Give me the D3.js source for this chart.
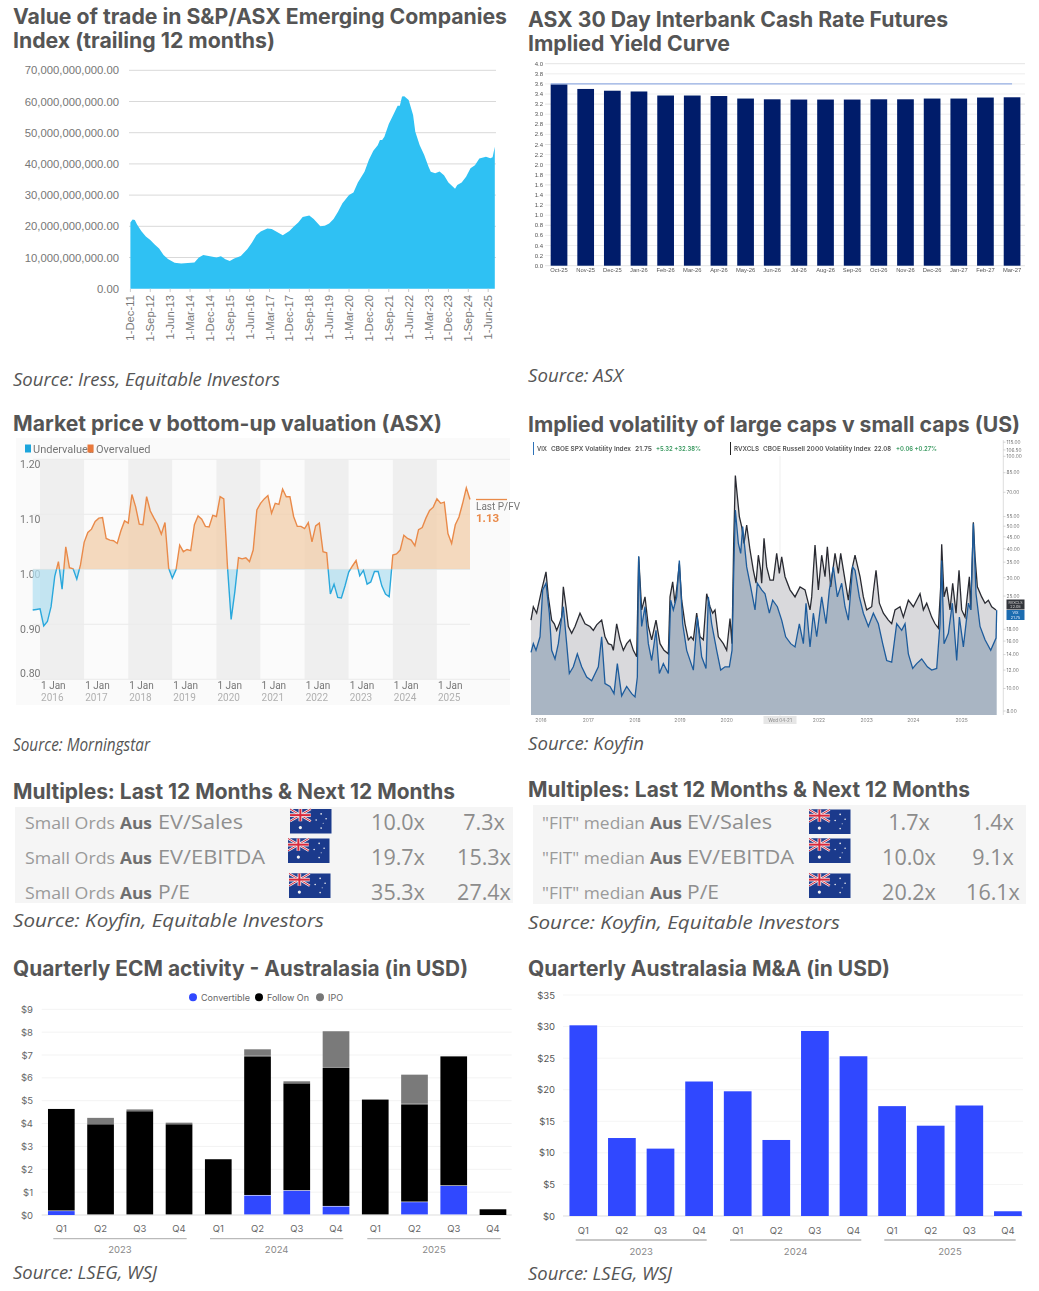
<!DOCTYPE html>
<html>
<head>
<meta charset="utf-8">
<script src="https://cdnjs.cloudflare.com/ajax/libs/d3/7.8.5/d3.min.js"></script>
<style>
html,body{margin:0;padding:0;background:#fff}
svg{display:block}
</style>
</head>
<body>
<svg id="c" width="1039" height="1291" xmlns="http://www.w3.org/2000/svg"></svg>
<script>
// ---------- DATA ----------
const tradeMonths=[0,1,2,3,5,7,9,11,13,15,17,20,23,26,29,31,33,36,39,41,43,45,47,50,53,55,57,59,62,64,66,69,72,74,76,78,81,83,86,88,90,92,94,96,99,101,103,106,108,110,112,113,114,115,117,119,121,122,123,124,126,128,129,131,133,135,136,138,140,142,144,147,148,150,152,154,156,158,161,163,164,165];
const tradeValues=[21.2,22.2,22,20.6,18.4,16.7,15.6,14.2,12.9,10.8,9.5,8.3,8.1,8.2,8.4,10,10.8,10.4,10,10.4,9.4,8.9,9.7,10.5,12.7,14.7,17.1,18.3,19.3,19.1,18.3,17.1,18.5,19.9,21.2,23,23.5,22.3,20,20.2,20.9,22.3,24.7,27.4,30,30.8,34,37.5,41.3,44.2,46,47.7,47.7,48.7,52.8,55.7,58.6,58.6,61.6,61.7,60.5,55.7,50.3,46,42.9,39.1,37.5,37,37.6,36.4,34,32,33.2,34,35.9,38.6,39.6,41.7,42.3,41.8,42.1,45.5];
const tradeTicks=["1-Dec-11","1-Sep-12","1-Jun-13","1-Mar-14","1-Dec-14","1-Sep-15","1-Jun-16","1-Mar-17","1-Dec-17","1-Sep-18","1-Jun-19","1-Mar-20","1-Dec-20","1-Sep-21","1-Jun-22","1-Mar-23","1-Dec-23","1-Sep-24","1-Jun-25"];

const curveMonths=["Oct-25","Nov-25","Dec-25","Jan-26","Feb-26","Mar-26","Apr-26","May-26","Jun-26","Jul-26","Aug-26","Sep-26","Oct-26","Nov-26","Dec-26","Jan-27","Feb-27","Mar-27"];
const curveYields=[3.59,3.5,3.465,3.45,3.37,3.37,3.36,3.31,3.295,3.29,3.29,3.29,3.295,3.295,3.31,3.31,3.33,3.335];
const curveCash=3.6;

const pfvValues=[.926,.927,.928,.897,.905,.932,.987,1.014,.964,1.041,1.003,1.001,.982,1.008,1.049,1.067,1.073,1.087,1.093,1.094,1.056,1.053,1.052,1.047,1.07,1.088,1.084,1.136,1.114,1.082,1.081,1.132,1.106,1.093,1.081,1.064,1.085,1.002,.984,.999,1.044,1.032,1.036,1.034,1.081,1.097,1.091,1.078,1.077,1.098,1.096,1.132,1.128,1.005,.909,.959,1.021,1.019,1.021,1.014,1.035,1.108,1.12,1.128,1.134,1.102,1.12,1.118,1.146,1.132,1.132,1.096,1.078,1.078,1.074,1.085,1.05,1.079,1.084,1.032,1.03,.955,.973,.949,.948,.97,.995,1.006,1.016,.988,.998,.973,.977,.996,.996,.97,.955,.95,1.026,1.028,1.035,1.062,1.056,1.053,1.043,1.072,1.076,1.093,1.107,1.113,1.128,1.12,1.122,1.065,1.047,1.081,1.095,1.12,1.148,1.127];
const pfvYears=[2016,2017,2018,2019,2020,2021,2022,2023,2024,2025];
const pfvAxis=[1.2,1.1,1.0,.9,.8];

const rvxIdx=[0,7,17,32,45,52,62,70,77,85,92,97,105,112,122,132,147,162,177,187,197,212,222,232,242,247,257,267,277,287,297,307,317,323,332,342,352,362,375,387,399,412,417,425,432,439,445,452,462,472,480,487,497,507,517,527,537,545,552,562,577,587,597,603,608,613,619,625,632,639,647,657,667,675,682,689,692,699,707,717,727,737,745,752,762,777,792,807,822,837,842,852,862,872,882,889,899,912,922,929,942,952,962,972,987,997,1007,1022,1027,1035,1045,1057,1072,1082,1092,1107,1117,1132,1147,1167,1177,1187,1202,1212,1222,1229,1232,1239,1247,1257,1265,1275,1284,1292,1302,1315,1319,1327,1332,1339,1352,1362,1372,1382,1395];
const rvxValues=[19.7,22.5,21.1,26.6,31.8,24.8,19.7,19,17.8,19,20.3,27.4,22.5,18.5,17.3,18.5,21.1,19,18.5,17.8,18.8,19.7,16.7,15.6,15.4,14.6,19,16.2,14.6,15.6,16.2,14.6,13.7,36.9,21.8,24.8,18.5,16.2,19.7,15.6,14.6,14.1,24.8,28.8,23.3,28.4,34.5,24,19,16.2,16.7,16.2,21.1,16.7,16.2,25.6,22.5,21.1,21.8,16.7,15.6,14.6,20,15.6,42.2,82.6,67,55,49.8,42.2,50.6,39.5,32.3,28.4,37.5,32.3,28.4,44.3,33.4,29.3,29.3,38.2,31.3,36.9,30.3,26.6,24.8,27.4,26.6,21.8,24.8,41.5,26.6,37.5,30.3,40.8,27.4,38.2,31.3,38.2,29.3,24,32.3,37.5,30.3,24.8,21.8,22.5,26.1,32.3,23.3,21.1,19.7,19,21.8,22.5,20.3,24,22.5,25.6,21.8,23.3,20.3,19,18.2,27.4,41.8,24.8,27.4,21.8,28.4,21.1,32.3,21.8,20.3,30.3,21.8,52,36.9,27.4,24.8,23.3,24,22.5,21.8];
const vixIdx=[0,7,15,27,35,45,55,62,72,82,92,97,107,115,127,139,152,167,182,202,212,222,237,249,259,272,287,302,312,319,323,332,342,352,362,375,385,397,412,419,427,437,445,455,467,487,499,512,525,532,542,557,569,582,595,603,608,613,622,629,635,647,659,672,679,692,702,715,725,739,752,764,779,792,805,817,825,837,847,857,872,885,895,907,919,932,942,952,965,972,985,997,1012,1027,1042,1055,1067,1082,1097,1112,1122,1132,1145,1157,1172,1189,1202,1217,1227,1232,1239,1252,1264,1277,1285,1297,1312,1319,1327,1335,1347,1362,1379,1395,1397];
const vixValues=[14.3,15.6,14.6,16.7,26.6,28.4,21.1,14.6,13.4,15.6,20.3,22.5,15.6,11.6,12.4,14.1,12.4,11.2,10.8,12.4,16.7,10.5,10.2,9.5,12.8,9.3,10.2,9.5,9.2,11.2,37.1,18.5,22.5,15.6,13.2,17.8,11.6,12.8,11.6,24,21.8,24.8,35.6,19,14.6,12,20.3,13.7,12.2,24.8,19,14.6,12,12.4,12.4,14.6,31.3,58.7,42.2,38.2,49.8,33.4,27.4,21.8,28.4,26.6,25.6,21.1,24,22.5,19.7,16.7,15.6,15.1,19,15.6,23.3,15.1,21.1,16.7,24.8,19,26.6,33.4,24.8,28.4,22.5,19.7,33.4,32.3,24.8,21.1,18.5,21.1,19,15.6,13.2,13,19,17.8,19,14.1,12.2,12.8,13.4,12.4,12,12.2,19,35.6,15.6,17.3,23.3,13.2,20.3,15.1,23.3,21.8,51.4,25.6,18.5,16.2,14.6,16.5,21.75];
const volYears=[2016,2017,2018,2019,2020,2022,2023,2024,2025];
const volYearIdx=[30,172,312,447,587,864,1007,1147,1292];
const volAxis=[115,106.5,100,85,70,55,50,45,40,35,30,25,18,16,14,12,10,8];

const multipleNames=["EV/Sales","EV/EBITDA","P/E"];
const smallOrdsLtm=["10.0x","19.7x","35.3x"];
const smallOrdsNtm=["7.3x","15.3x","27.4x"];
const fitLtm=["1.7x","10.0x","20.2x"];
const fitNtm=["1.4x","9.1x","16.1x"];

const quarters=["Q1","Q2","Q3","Q4","Q1","Q2","Q3","Q4","Q1","Q2","Q3","Q4"];
const quarterYears=[2023,2024,2025];
const ecmConvertible=[.17,0,0,0,0,.85,1.06,.37,0,.56,1.27,0];
const ecmFollowOn=[4.47,3.97,4.54,3.97,2.44,6.09,4.70,6.08,5.05,4.28,5.67,.25];
const ecmIpo=[0,.28,.08,.07,0,.31,.09,1.59,0,1.30,0,0];
const maValues=[30.2,12.35,10.67,21.3,19.75,12.04,29.3,25.3,17.4,14.3,17.5,.75];

// ---------- HELPERS ----------
const svg=d3.select("#c");
svg.append("rect").attr("width",1039).attr("height",1291).attr("fill","#fff");
const defs=svg.append("defs");
defs.append("filter").attr("id","soft").attr("x","-5%").attr("y","-5%").attr("width","110%").attr("height","110%")
  .append("feGaussianBlur").attr("stdDeviation",.45);
const HEAD="Inter, 'Noto Sans', sans-serif", OS="'Open Sans', sans-serif", ARIAL="'Liberation Sans', Arial, sans-serif", NARROW="'Liberation Sans Narrow', Roboto, sans-serif";

function txt(g,s,x,y,o={}){
  const t=g.append("text").attr("x",x).attr("y",y).text(s)
    .attr("font-family",o.font||ARIAL).attr("font-size",o.size||10).attr("fill",o.fill||"#666")
    .attr("text-anchor",o.anchor||"start");
  if(o.weight)t.attr("font-weight",o.weight);
  if(o.italic)t.attr("font-style","italic");
  if(o.len)t.attr("textLength",o.len).attr("lengthAdjust","spacingAndGlyphs");
  return t;
}
const title=(s,x,y,len)=>txt(svg,s,x,y,{font:HEAD,size:21,weight:700,fill:"#555",len});
const source=(s,x,y,len)=>txt(svg,s,x,y,{font:OS,size:18,italic:true,fill:"#555",len});

title("Value of trade in S&P/ASX Emerging Companies",13,24,494);
title("Index (trailing 12 months)",13,48,262);
title("ASX 30 Day Interbank Cash Rate Futures",528,27,420);
title("Implied Yield Curve",528,51,202);
title("Market price v bottom-up valuation (ASX)",13,431,429);
title("Implied volatility of large caps v small caps (US)",528,432,492);
title("Multiples: Last 12 Months & Next 12 Months",13,799,442);
title("Multiples: Last 12 Months & Next 12 Months",528,797,442);
title("Quarterly ECM activity - Australasia (in USD)",13,976,455);
title("Quarterly Australasia M&A (in USD)",528,976,362);
source("Source: Iress, Equitable Investors",13,386,267);
source("Source: ASX",528,382,95);
source("Source: Morningstar",13,751,137);
source("Source: Koyfin",528,750,116);
source("Source: Koyfin, Equitable Investors",13,927,311);
source("Source: Koyfin, Equitable Investors",528,929,312);
source("Source: LSEG, WSJ",13,1279,144);
source("Source: LSEG, WSJ",528,1280,144);

// ---------- 1. TRADE AREA ----------
(function(){
  const g=svg.append("g");
  const x=d3.scaleLinear().domain([0,165]).range([130.4,494.8]);
  const y=d3.scaleLinear().domain([0,70]).range([288.7,70.3]);
  y.ticks(7).forEach(v=>{
    if(v>0)g.append("line").attr("x1",129).attr("x2",496).attr("y1",y(v)).attr("y2",y(v)).attr("stroke","#d9d9d9").attr("stroke-width",1);
    txt(g,d3.format(",.2f")(v*1e9),119,y(v)+4,{size:11.3,fill:"#777",anchor:"end"});
  });
  g.append("path").attr("fill","#2fc1f3").attr("d",d3.area().x((d,i)=>x(tradeMonths[i])).y0(y(0)).y1(d=>y(d))(tradeValues));
  tradeTicks.forEach((s,i)=>{
    const xx=x(i*9);
    g.append("line").attr("x1",xx).attr("x2",xx).attr("y1",288.7).attr("y2",292).attr("stroke","#ccc");
    txt(g,s,0,0,{size:11.3,fill:"#777",anchor:"end"}).attr("transform",`translate(${xx+4},295) rotate(-90)`);
  });
})();

// ---------- 2. YIELD CURVE ----------
(function(){
  const g=svg.append("g").attr("filter","url(#soft)");
  const x=d3.scaleBand().domain(d3.range(curveMonths.length)).range([545.7,1025.4]).paddingInner(.373).paddingOuter(.1865);
  const y=d3.scaleLinear().domain([0,4]).range([265.7,63.7]);
  d3.range(0,21).forEach(k=>{
    const v=k*.2;
    g.append("line").attr("x1",545).attr("x2",1025).attr("y1",y(v)).attr("y2",y(v)).attr("stroke",k%4==0?"#dcdcdc":"#eaeaea").attr("stroke-width",.8);
    txt(g,v.toFixed(1),543,y(v)+2,{size:6,fill:"#555",anchor:"end"});
  });
  g.selectAll("rect.b").data(curveYields).join("rect").attr("x",(d,i)=>x(i)).attr("width",x.bandwidth()).attr("y",d=>y(d)).attr("height",d=>y(0)-y(d)).attr("fill","#001f6b");
  g.append("line").attr("x1",x(0)).attr("x2",x(17)+x.bandwidth()/2).attr("y1",y(curveCash)).attr("y2",y(curveCash)).attr("stroke","#7f9fe0").attr("stroke-width",1);
  curveMonths.forEach((s,i)=>txt(g,s,x(i)+x.bandwidth()/2,271.5,{size:5.8,fill:"#555",anchor:"middle"}));
})();

// ---------- 3. P/FV ----------
(function(){
  const g=svg.append("g").attr("filter","url(#soft)");
  g.append("rect").attr("x",16).attr("y",438).attr("width",494).attr("height",267).attr("fill","#fafafa");
  const x=d3.scaleLinear().domain([0,pfvValues.length-1]).range([32.7,470]);
  const y=d3.scaleLinear().domain([.8,1.2]).range([679.3,459.3]);
  pfvYears.forEach((yr,k)=>{
    const a=x(2+12*k), b=Math.min(x(14+12*k),470);
    g.append("rect").attr("x",a).attr("y",y(1.2)).attr("width",b-a).attr("height",y(.8)-y(1.2)).attr("fill",k%2==0?"#efefef":"#fbfbfb");
    txt(g,"1 Jan",a+1,689,{font:NARROW,size:10,fill:"#777"});
    txt(g,yr,a+1,701,{font:NARROW,size:10,fill:"#b0b0b0"});
  });
  pfvAxis.forEach(v=>{
    g.append("line").attr("x1",33).attr("x2",v==1.2||v==.8?510:470).attr("y1",y(v)).attr("y2",y(v)).attr("stroke","#ebebeb").attr("stroke-width",1);
    txt(g,v.toFixed(2),20,v==.8?y(v)-2:y(v)+9,{font:NARROW,size:10.5,fill:"#777"});
  });
  const cid=(n,a,b)=>{defs.append("clipPath").attr("id",n).append("rect").attr("x",0).attr("y",a).attr("width",1039).attr("height",b-a);return `url(#${n})`;};
  const up=cid("pfvUp",440,y(1)), dn=cid("pfvDn",y(1),700);
  const area=d3.area().x((d,i)=>x(i)).y0(y(1)).y1(d=>y(d));
  const line=d3.line().x((d,i)=>x(i)).y(d=>y(d));
  g.append("path").attr("d",area(pfvValues)).attr("fill","#f2cdaa").attr("fill-opacity",.75).attr("clip-path",up);
  g.append("path").attr("d",area(pfvValues)).attr("fill","#b4e0f2").attr("fill-opacity",.75).attr("clip-path",dn);
  g.append("path").attr("d",line(pfvValues)).attr("fill","none").attr("stroke","#e98a4a").attr("stroke-width",1.4).attr("clip-path",up);
  g.append("path").attr("d",line(pfvValues)).attr("fill","none").attr("stroke","#2aa8dc").attr("stroke-width",1.4).attr("clip-path",dn);
  g.append("rect").attr("x",25).attr("y",444.5).attr("width",6).attr("height",8).attr("fill","#1fa5dc");
  txt(g,"Undervalued",33,452.5,{font:NARROW,size:11,fill:"#777"});
  g.append("rect").attr("x",87.5).attr("y",444.5).attr("width",6).attr("height",8).attr("fill","#e9793a");
  txt(g,"Overvalued",96,452.5,{font:NARROW,size:11,fill:"#777"});
  g.append("line").attr("x1",476).attr("x2",507).attr("y1",499.5).attr("y2",499.5).attr("stroke","#e98a4a").attr("stroke-width",1.3);
  txt(g,"Last P/FV",476,510,{font:NARROW,size:10,fill:"#777"});
  txt(g,"1.13",476,522,{font:NARROW,size:11.5,weight:700,fill:"#e98a4a"});
})();

// ---------- 4. VOLATILITY ----------
(function(){
  const g=svg.append("g").attr("filter","url(#soft)");
  const x=d3.scaleLinear().domain([0,1397]).range([531,996.7]);
  const y=d3.scaleLog().domain([8,40]).range([711,548.7]);
  const base=715;
  const area=ix=>d3.area().x((d,i)=>x(ix[i])).y0(base).y1(d=>y(d));
  const line=ix=>d3.line().x((d,i)=>x(ix[i])).y(d=>y(d));
  g.append("line").attr("x1",780/3+520).attr("x2",780/3+520).attr("y1",456).attr("y2",716).attr("stroke","#e4e4e4").attr("stroke-width",.6);
  g.append("path").attr("d",area(rvxIdx)(rvxValues)).attr("fill","#d9d9dc");
  g.append("path").attr("d",area(vixIdx)(vixValues)).attr("fill","#a9b5c3");
  g.append("path").attr("d",line(rvxIdx)(rvxValues)).attr("fill","none").attr("stroke","#2a2c33").attr("stroke-width",1.3);
  g.append("path").attr("d",line(vixIdx)(vixValues)).attr("fill","none").attr("stroke","#1f5c9c").attr("stroke-width",1.3);
  g.append("line").attr("x1",1003.3).attr("x2",1003.3).attr("y1",440).attr("y2",715).attr("stroke","#cfcfcf").attr("stroke-width",.7);
  volAxis.forEach(v=>{
    g.append("line").attr("x1",1003.3).attr("x2",1005.5).attr("y1",y(v)).attr("y2",y(v)).attr("stroke","#bbb").attr("stroke-width",.6);
    txt(g,v.toFixed(2),1006.5,y(v)+1.8,{font:HEAD,size:4.8,fill:"#777"});
  });
  g.append("rect").attr("x",1006.5).attr("y",599.5).attr("width",18).attr("height",10).attr("fill","#33353b");
  g.append("rect").attr("x",1006.5).attr("y",610).attr("width",18).attr("height",10).attr("fill","#1f6cb0");
  txt(g,"RVXCLS",1015.5,603.5,{font:HEAD,size:3.6,fill:"#ddd",anchor:"middle"});
  txt(g,"22.08",1015.5,608,{font:HEAD,size:3.8,fill:"#ddd",anchor:"middle"});
  txt(g,"VIX",1015.5,614,{font:HEAD,size:3.6,fill:"#e8f0ff",anchor:"middle"});
  txt(g,"21.75",1015.5,618.5,{font:HEAD,size:3.8,fill:"#e8f0ff",anchor:"middle"});
  volYears.forEach((s,i)=>txt(g,s,x(volYearIdx[i]),722,{font:HEAD,size:5,fill:"#888",anchor:"middle"}));
  g.append("rect").attr("x",763.5).attr("y",716).attr("width",33).attr("height",8).attr("fill","#e6e6e6");
  txt(g,"Wed 04-21",780,721.5,{font:HEAD,size:4.6,fill:"#888",anchor:"middle"});
  g.append("rect").attr("x",533).attr("y",442).attr("width",1).attr("height",13).attr("fill","#2f72b8");
  g.append("rect").attr("x",730).attr("y",442).attr("width",1).attr("height",13).attr("fill","#222");
  const hdr=(s,xx,len,fill,w)=>txt(g,s,xx,451,{font:HEAD,size:6.4,weight:w||600,fill,len});
  hdr("VIX",537,10,"#555");
  hdr("CBOE SPX Volatility Index",551,80,"#555");
  hdr("21.75",635,17,"#555");
  hdr("+5.32 +32.38%",656,45,"#3c9a62");
  hdr("RVXCLS",734,25,"#555");
  hdr("CBOE Russell 2000 Volatility Index",763,108,"#555");
  hdr("22.08",874,17,"#555");
  hdr("+0.06 +0.27%",896,41,"#3c9a62");
})();

// ---------- 5. MULTIPLES ----------
function flag(x,y,w,h){
  const f=svg.append("g").attr("transform",`translate(${x},${y})`);
  f.append("rect").attr("width",w).attr("height",h).attr("fill","#1b3a8c");
  const uw=w*.5, uh=h*.5;
  f.append("rect").attr("width",uw).attr("height",uh).attr("fill","#27408f");
  const dg=(a,b,c,d,col,sw)=>f.append("line").attr("x1",a).attr("y1",b).attr("x2",c).attr("y2",d).attr("stroke",col).attr("stroke-width",sw);
  dg(0,0,uw,uh,"#f2f2f2",2.6);dg(uw,0,0,uh,"#f2f2f2",2.6);
  dg(0,0,uw,uh,"#d8283c",1);dg(uw,0,0,uh,"#d8283c",1);
  dg(uw/2,0,uw/2,uh,"#f2f2f2",3.6);dg(0,uh/2,uw,uh/2,"#f2f2f2",3.6);
  dg(uw/2,0,uw/2,uh,"#d8283c",2);dg(0,uh/2,uw,uh/2,"#d8283c",2);
  [[.25,.76,1.6],[.75,.2,.8],[.75,.78,.8],[.63,.45,.8],[.87,.4,.8],[.8,.58,.5]].forEach(s=>
    f.append("circle").attr("cx",s[0]*w).attr("cy",s[1]*h).attr("r",s[2]).attr("fill","#f4f4f4"));
}
function table(bx,bw,by,bh,prefix,px,ax,nx,ltm,ntm,c1,c2,rowY,flags){
  svg.append("rect").attr("x",bx).attr("y",by).attr("width",bw).attr("height",bh).attr("fill","#f5f5f5");
  multipleNames.forEach((n,i)=>{
    const b=rowY[i];
    txt(svg,prefix,px,b,{font:OS,size:16.5,fill:"#9a9a9a",len:ax-px-5});
    txt(svg,"Aus",ax,b,{font:OS,size:16.5,weight:700,fill:"#6f6f6f",len:32});
    txt(svg,n,nx,b,{font:OS,size:20.5,fill:"#8f8f8f",len:i==0?85:i==1?107:32});
    txt(svg,ltm[i],c1,b+1,{font:OS,size:21.5,fill:"#8c8c8c",anchor:"middle"});
    txt(svg,ntm[i],c2,b+1,{font:OS,size:21.5,fill:"#8c8c8c",anchor:"middle"});
    flag(flags[i][0],flags[i][1],41.5,24.5);
  });
}
table(15,498,807,96,"Small Ords",25,120,158,smallOrdsLtm,smallOrdsNtm,398,484,[829,864,899],[[290,809],[288,838.5],[289,873.5]]);
table(533,493,805,99,"\"FIT\" median",542,650,687,fitLtm,fitNtm,909,993,[829,864,899],[[809,809.5],[809,838.5],[809,873.5]]);

// ---------- 6. ECM ----------
function qAxis(g,x,y0q,yLine,yYear,groups,lineCol,lineW){
  quarters.forEach((s,i)=>txt(g,s,x(i)+x.bandwidth()/2,y0q,{font:HEAD,size:9.5,fill:"#666",anchor:"middle"}));
  quarterYears.forEach((yr,k)=>{
    g.append("line").attr("x1",groups[k][0]).attr("x2",groups[k][1]).attr("y1",yLine).attr("y2",yLine).attr("stroke",lineCol).attr("stroke-width",lineW);
    txt(g,yr,(groups[k][0]+groups[k][1])/2,yYear,{font:HEAD,size:9.5,fill:"#888",anchor:"middle"});
  });
}
(function(){
  const g=svg.append("g");
  const x=d3.scaleBand().domain(d3.range(12)).range([41.7,512.6]).paddingInner(.32).paddingOuter(.16);
  const y=d3.scaleLinear().domain([0,9]).range([1215,1009.3]);
  d3.range(0,10).forEach(v=>{
    g.append("line").attr("x1",41.7).attr("x2",511.7).attr("y1",y(v)).attr("y2",y(v)).attr("stroke",v==0?"#dddddd":"#f3f3f3");
    txt(g,"$"+v,33,y(v)+3.5,{font:HEAD,size:9.5,fill:"#666",anchor:"end"});
  });
  const stack=d3.stack().keys(["c","f","i"])(quarters.map((q,i)=>({c:ecmConvertible[i],f:ecmFollowOn[i],i:ecmIpo[i]})));
  const cols=["#3048ff","#000000","#7a7a7a"];
  stack.forEach((s,k)=>{
    g.selectAll(null).data(s).join("rect").attr("x",(d,i)=>x(i)).attr("width",x.bandwidth())
      .attr("y",d=>y(d[1])).attr("height",d=>Math.max(0,y(d[0])-y(d[1])-(d[1]-d[0]>.3?.6:0))).attr("fill",cols[k]);
  });
  qAxis(g,x,1232,1238.7,1253,[[53.3,186.7],[210,343.3],[367.3,500.7]],"#aaaaaa",1);
  [["Convertible",193,"#3048ff"],["Follow On",259,"#000"],["IPO",320,"#777"]].forEach(l=>{
    g.append("circle").attr("cx",l[1]).attr("cy",997.3).attr("r",4).attr("fill",l[2]);
    txt(g,l[0],l[1]+8,1000.5,{font:HEAD,size:9,fill:"#666"});
  });
})();

// ---------- 7. M&A ----------
(function(){
  const g=svg.append("g");
  const x=d3.scaleBand().domain(d3.range(12)).range([564,1027.2]).paddingInner(.282).paddingOuter(.141);
  const y=d3.scaleLinear().domain([0,35]).range([1216,995]);
  d3.range(0,36,5).forEach(v=>{
    g.append("line").attr("x1",563).attr("x2",1023).attr("y1",y(v)).attr("y2",y(v)).attr("stroke",v==0?"#dddddd":"#f5f5f5");
    txt(g,"$"+v,555,y(v)+3.5,{font:HEAD,size:9.5,fill:"#555",anchor:"end"});
  });
  g.selectAll(null).data(maValues).join("rect").attr("x",(d,i)=>x(i)).attr("width",x.bandwidth())
    .attr("y",d=>y(d)).attr("height",d=>y(0)-y(d)).attr("fill","#3048ff");
  qAxis(g,x,1234,1240,1255,[[575.7,706.7],[730,861.3],[884.3,1015.7]],"#b5b5b5",1.6);
})();
</script>
</body>
</html>
